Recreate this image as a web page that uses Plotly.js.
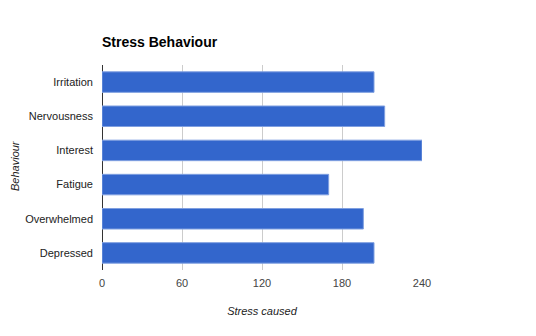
<!DOCTYPE html>
<html>
<head>
<meta charset="utf-8">
<script src="https://cdn.plot.ly/plotly-3.0.1.min.js"></script>
<style>html,body{margin:0;padding:0;background:#fff}#chart{width:536px;height:336px}</style>
</head>
<body>
<div id="chart"></div>
<script>
var categories = ["Irritation", "Nervousness", "Interest", "Fatigue", "Overwhelmed", "Depressed"];
var stressValues = [204, 212, 240, 170, 196, 204];
var xTickValues = [0, 60, 120, 180, 240];

var trace = {
  type: 'bar',
  orientation: 'h',
  y: categories,
  x: stressValues,
  marker: {color: '#3366cc', line: {color: '#7f9fe0', width: 1}},
  hoverinfo: 'none'
};

var layout = {
  width: 536, height: 336,
  margin: {l: 102, r: 114, t: 65, b: 66},
  paper_bgcolor: '#fff', plot_bgcolor: '#fff',
  bargap: 0.4,
  showlegend: false,
  font: {family: 'Liberation Sans, Arial, sans-serif', size: 11, color: '#222'},
  title: {
    text: '<b>Stress Behaviour</b>',
    font: {family: 'Liberation Sans, Arial, sans-serif', size: 14, color: '#000'},
    x: 0, xanchor: 'left', xref: 'paper', y: 1 - 42/336, yanchor: 'middle'
  },
  xaxis: {
    range: [0, 240],
    tickvals: xTickValues,
    ticktext: xTickValues.map(String),
    showgrid: true, gridcolor: '#cccccc', gridwidth: 1,
    zeroline: true, zerolinecolor: '#333333', zerolinewidth: 1,
    showline: false, ticks: '',
    ticklabelstandoff: 5,
    tickfont: {color: '#444', size: 11},
    title: {text: '<i>Stress caused</i>', font: {size: 11, color: '#222'}, standoff: 19},
    fixedrange: true
  },
  yaxis: {
    autorange: 'reversed',
    type: 'category',
    showgrid: false, zeroline: false, showline: false, ticks: '',
    ticklabelstandoff: 8,
    tickfont: {color: '#222', size: 11},
    fixedrange: true
  },
  annotations: [{
    text: '<i>Behaviour</i>',
    xref: 'paper', yref: 'paper',
    x: (15 - 102) / 320, y: (270 - 166) / 205,
    xanchor: 'center', yanchor: 'middle',
    textangle: -90, showarrow: false,
    font: {size: 11, color: '#222'}
  }]
};

Plotly.newPlot('chart', [trace], layout, {staticPlot: true, displayModeBar: false});
</script>
</body>
</html>
